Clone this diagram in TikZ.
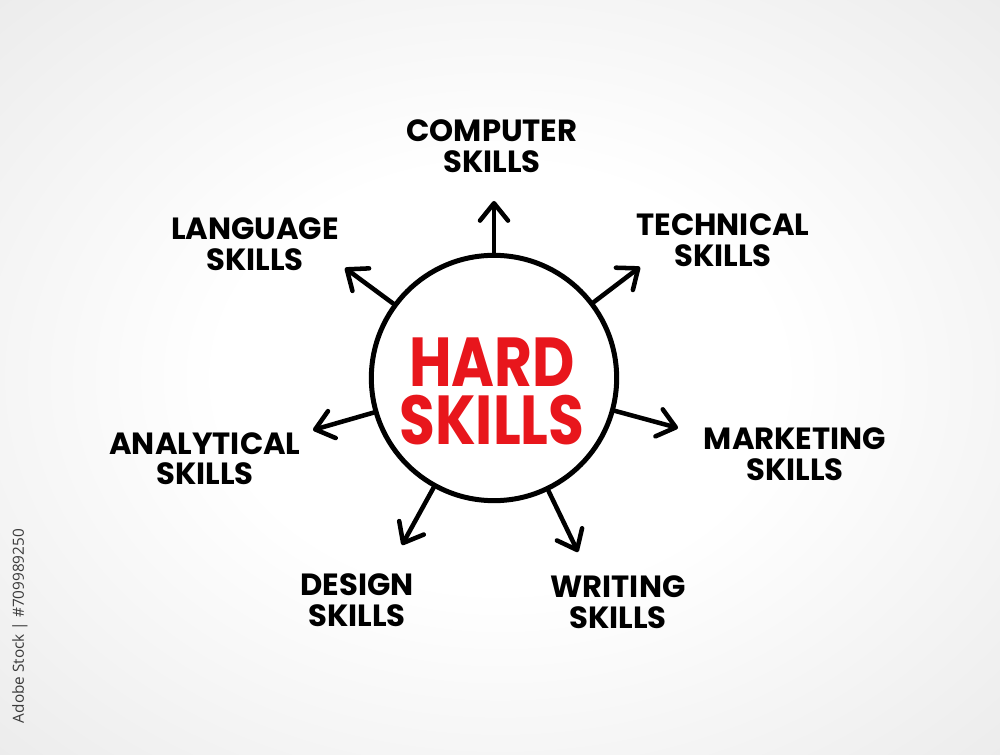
\documentclass[tikz,border=0pt]{standalone}
\usepackage{fontspec}
\setmainfont{Poppins}
\newfontfamily\hardfont{Poppins}[FakeStretch=0.84]
\newfontfamily\wmfont{Open Sans}
\usetikzlibrary{arrows.meta}
\pgfdeclareradialshading{bgshade}{\pgfpoint{0bp}{0bp}}{color(0bp)=(white); color(14bp)=(white); color(40bp)=(black!9); color(50bp)=(black!11)}
\definecolor{hardred}{RGB}{232,22,28}
\definecolor{wmgray}{RGB}{58,58,58}
\begin{document}
\begin{tikzpicture}[x=0.75pt,y=-0.75pt,
  lbl/.style={font=\bfseries\fontsize{23}{23.25}\selectfont, align=center, anchor=base, inner sep=0pt, text=black},
  arr/.style={line width=3.4pt, line cap=round, line join=round,
    -{Straight Barb[length=13pt,width=21pt,line cap=round,line join=round]}},
  hub/.style={circle, draw=black, line width=3.75pt, fill=white, minimum size=184pt, inner sep=0pt},
]
\useasboundingbox (0,0) rectangle (1000,755);
\shade[shading=bgshade] (0,0) rectangle (1000,755);

\node[hub] (c) at (494,378) {};
\node[font=\hardfont\bfseries\fontsize{52}{43.5}\selectfont, text=hardred, align=center, anchor=base, inner sep=0pt] (hard) at (492,445) {HARD\\SKILLS};

\coordinate (tup) at (494,201);
\coordinate (tul) at (345,268);
\coordinate (tur) at (640,267);
\coordinate (tl) at (313,430);
\coordinate (tr) at (678,428);
\coordinate (tdl) at (402,545);
\coordinate (tdr) at (578,552);

\foreach \t in {tup,tul,tur,tl,tr,tdl,tdr}{\draw[arr] (c) -- (\t);}

\node[lbl] (computer) at (492,173) {COMPUTER\\SKILLS};
\node[lbl] (language) at (255,271) {LANGUAGE\\SKILLS};
\node[lbl] (technical) at (723,267) {TECHNICAL\\SKILLS};
\node[lbl] (analytical) at (205,485) {ANALYTICAL\\SKILLS};
\node[lbl] (marketing) at (795,481) {MARKETING\\SKILLS};
\node[lbl] (design) at (357,626) {DESIGN\\SKILLS};
\node[lbl] (writing) at (618,628) {WRITING\\SKILLS};

\node[rotate=90, font=\wmfont\fontsize{11.5}{12}\selectfont, text=wmgray, inner sep=0pt] (wm) at (20,626) {Adobe Stock | \#709989250};
\end{tikzpicture}
\end{document}
